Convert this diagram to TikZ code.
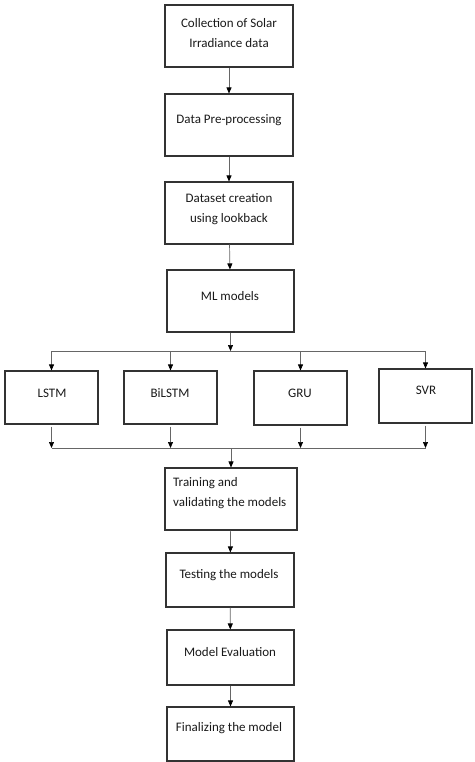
\documentclass[tikz,border=0pt]{standalone}
\usepackage{fontspec}
\setmainfont{Carlito}
\usetikzlibrary{arrows.meta}
\begin{document}
\begin{tikzpicture}[x=1pt,y=-1pt,
  box/.style={draw=black!80, line width=1.1pt, inner sep=0pt, minimum width=128pt, minimum height=62pt},
  txt/.style={font=\fontsize{13}{20}\selectfont, align=center, inner sep=0pt, text=black!90},
  arr/.style={draw=black!60, line width=0.7pt, -{Triangle[black,width=5pt,length=6pt]}},
  ln/.style={draw=black!60, line width=0.7pt}]
\useasboundingbox (0,0) rectangle (474,762);
% main column
\node[box] (b1) at (229,36) {};
\node[txt] (t1) at (229,33) {Collection of Solar\\Irradiance data};
\node[box] (b2) at (229,125) {};
\node[txt] (t2) at (229,120) {Data Pre-processing};
\node[box] (b3) at (229,213) {};
\node[txt] (t3) at (229,209.5) {Dataset creation\\using lookback};
\node[box, minimum width=127pt] (ml) at (230.5,301) {};
\node[txt] (t4) at (230,296) {ML models};
% models
\node[box, minimum width=93pt, minimum height=53pt] (lstm) at (51.5,397.5) {};
\node[txt] (t5) at (52,393) {LSTM};
\node[box, minimum width=93pt, minimum height=53pt] (bilstm) at (170.5,397.5) {};
\node[txt] (t6) at (170,393) {BiLSTM};
\node[box, minimum width=93pt, minimum height=54pt] (gru) at (300.5,398) {};
\node[txt] (t7) at (300,393) {GRU};
\node[box, minimum width=93pt, minimum height=54pt] (svr) at (425.5,396) {};
\node[txt] (t8) at (426,390) {SVR};
% lower column
\node[box, minimum width=132pt] (train) at (231,499) {};
\node[txt, align=left, anchor=west] (t9) at (173,493.5) {Training and\\validating the models};
\node[box, minimum height=54pt] (test) at (230,580) {};
\node[txt] (t10) at (229,575) {Testing the models};
\node[box, minimum width=127pt, minimum height=55pt] (eval) at (230.5,657.5) {};
\node[txt] (t11) at (230,652) {Model Evaluation};
\node[box, minimum width=127pt, minimum height=54pt] (final) at (230.5,734) {};
\node[txt] (t12) at (229,728) {Finalizing the model};
% connectors
\draw[arr] (b1) -- (b2);
\draw[arr] (b2) -- (b3);
\draw[arr] (b3) -- (ml);
\coordinate (dm) at (229,351);
\draw[arr] (ml.south) -- (ml.south |- dm);
\draw[ln] (lstm.north |- dm) -- (svr.north |- dm);
\draw[arr] (lstm.north |- dm) -- (lstm.north);
\draw[arr] (bilstm.north |- dm) -- (bilstm.north);
\draw[arr] (gru.north |- dm) -- (gru.north);
\draw[arr] (svr.north |- dm) -- (svr.north);
\coordinate (cm) at (230,448);
\draw[arr, shorten <=2pt] (lstm.south) -- (lstm.south |- cm);
\draw[arr, shorten <=2pt] (bilstm.south) -- (bilstm.south |- cm);
\draw[arr, shorten <=2pt] (gru.south) -- (gru.south |- cm);
\draw[arr, shorten <=2pt] (svr.south) -- (svr.south |- cm);
\draw[ln] (lstm.south |- cm) -- (svr.south |- cm);
\draw[arr] (train.north |- cm) -- (train.north);
\draw[arr] (train) -- (test);
\draw[arr] (test) -- (eval);
\draw[arr] (eval) -- (final);
\end{tikzpicture}
\end{document}
